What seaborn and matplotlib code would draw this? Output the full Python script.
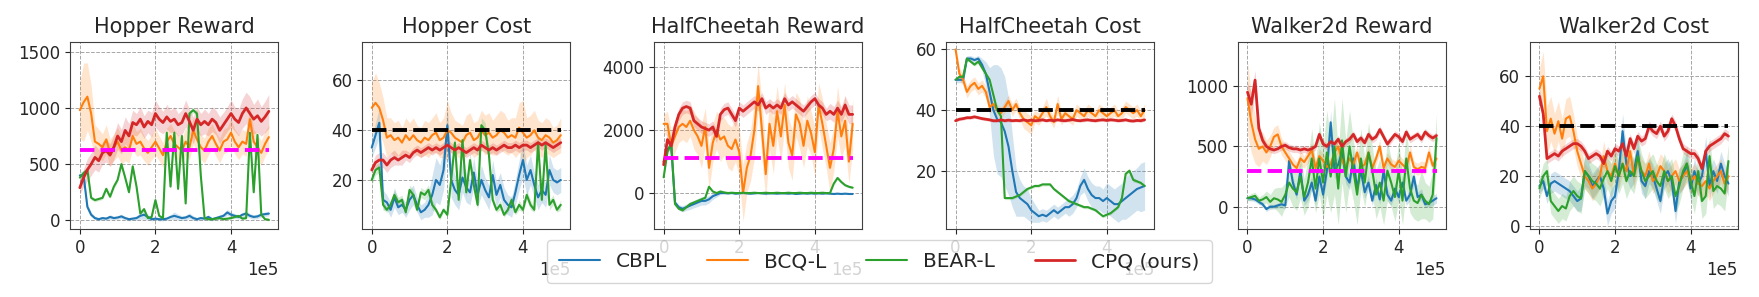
import numpy as np
import seaborn as sns
import matplotlib
matplotlib.use('Agg')
import matplotlib.pyplot as plt

# 训练步数 (0 ~ 5e5)
steps = np.linspace(0, 5e5, 51)

methods = ['CBPL', 'BCQ-L', 'BEAR-L', 'CPQ (ours)']
titles = ['Hopper Reward', 'Hopper Cost', 'HalfCheetah Reward',
          'HalfCheetah Cost', 'Walker2d Reward', 'Walker2d Cost']
thresholds = [630, 40, 1110, 40, 300, 40]

# ---------------- Hopper Reward ----------------
hop_r_cbpl = [400, 400, 120, 50, 20, 10, 20, 15, 30, 20,
              25, 35, 20, 10, 15, 20, 40, 50, 30, 10,
              15, 10, 10, 15, 30, 40, 30, 20, 25, 40,
              20, 10, 20, 15, 30, 10, 20, 30, 40, 70,
              50, 40, 30, 50, 60, 40, 30, 35, 50, 55,
              60]
hop_r_cbpl_sd = [30, 40, 30, 20, 15, 15, 15, 15, 20, 15,
                 15, 20, 15, 15, 15, 20, 30, 40, 25, 15,
                 15, 15, 15, 15, 20, 35, 25, 20, 20, 25,
                 20, 15, 15, 15, 20, 15, 15, 20, 20, 25,
                 25, 20, 20, 20, 25, 20, 20, 20, 20, 20,
                 20]
hop_r_bcq = [980, 1050, 1100, 950, 700, 680, 650, 720, 600, 650,
             700, 620, 650, 620, 750, 680, 700, 640, 600, 650,
             700, 640, 580, 700, 750, 680, 650, 620, 700, 650,
             800, 720, 650, 620, 700, 750, 680, 620, 700, 720,
             780, 700, 650, 700, 680, 900, 700, 650, 600, 680,
             740]
hop_r_bcq_sd = [250, 350, 300, 250, 150, 130, 120, 130, 120, 120,
                130, 120, 120, 110, 120, 110, 120, 110, 110, 110,
                120, 110, 110, 120, 110, 120, 110, 110, 120, 110,
                120, 110, 110, 110, 120, 110, 110, 110, 110, 110,
                120, 110, 110, 110, 110, 120, 110, 110, 110, 110,
                110]
hop_r_bear = [380, 420, 450, 200, 180, 190, 200, 280, 210, 300,
              360, 500, 380, 250, 480, 300, 60, 100, 20, 30,
              180, 40, 20, 780, 300, 780, 280, 750, 150, 950,
              980, 950, 400, 20, 10, 10, 15, 20, 10, 15,
              20, 30, 40, 15, 20, 780, 250, 760, 50, 10,
              5]
hop_r_bear_sd = [20, 25, 25, 20, 15, 15, 15, 20, 15, 20,
                 20, 25, 20, 15, 20, 15, 10, 10, 10, 10,
                 15, 10, 10, 25, 20, 25, 20, 25, 15, 25,
                 25, 25, 20, 10, 10, 10, 10, 10, 10, 10,
                 10, 10, 10, 10, 10, 25, 20, 25, 10, 10,
                 10]
hop_r_cpq = [290, 380, 450, 500, 560, 530, 600, 620, 580, 650,
             750, 700, 800, 750, 870, 850, 900, 830, 880, 850,
             950, 900, 870, 920, 880, 900, 850, 870, 950, 880,
             800, 900, 850, 880, 850, 900, 870, 800, 850, 900,
             950, 900, 870, 950, 1000, 950, 900, 930, 880, 920,
             970]
hop_r_cpq_sd = [60, 80, 100, 100, 110, 100, 100, 100, 100, 110,
                120, 110, 120, 110, 110, 100, 110, 100, 100, 110,
                120, 110, 100, 110, 100, 110, 100, 110, 120, 110,
                120, 110, 100, 110, 100, 110, 110, 120, 110, 110,
                120, 110, 120, 130, 140, 150, 130, 150, 130, 140,
                150]

# ---------------- Hopper Cost ----------------
hop_c_cbpl = [33, 38, 43, 12, 11, 8, 13, 9, 10, 8,
              12, 14, 10, 7, 8, 10, 14, 20, 18, 24,
              42, 20, 16, 14, 21, 17, 15, 23, 14, 20,
              16, 13, 22, 14, 18, 12, 10, 9, 15, 22,
              28, 20, 24, 18, 13, 16, 14, 24, 20, 19,
              20]
hop_c_cbpl_sd = [4, 5, 6, 4, 3, 3, 4, 3, 3, 3,
                 4, 4, 3, 3, 3, 5, 8, 9, 8, 8,
                 8, 7, 6, 6, 6, 6, 5, 6, 5, 6,
                 5, 5, 6, 5, 5, 5, 4, 4, 5, 6,
                 7, 6, 6, 5, 5, 5, 5, 6, 5, 5,
                 5]
hop_c_bcq = [49, 51, 49, 44, 37, 38, 36, 37, 35, 38,
             36, 38, 36, 35, 37, 36, 38, 39, 36, 37,
             40, 39, 37, 36, 35, 38, 39, 36, 37, 40,
             38, 39, 37, 38, 40, 39, 37, 38, 37, 41,
             39, 37, 38, 40, 37, 36, 38, 37, 35, 36,
             38]
hop_c_bcq_sd = [10, 12, 10, 9, 8, 7, 7, 7, 6, 7,
                7, 7, 6, 6, 7, 7, 7, 8, 7, 8,
                12, 8, 7, 7, 7, 8, 8, 7, 7, 8,
                8, 8, 7, 8, 8, 8, 7, 7, 8, 10,
                13, 8, 8, 8, 7, 7, 7, 7, 6, 6,
                7]
hop_c_bear = [20, 24, 25, 10, 8, 10, 14, 11, 12, 7,
              16, 14, 8, 15, 14, 16, 10, 8, 5, 8,
              6, 20, 35, 12, 36, 15, 28, 18, 10, 42,
              40, 30, 12, 8, 10, 6, 8, 12, 7, 10,
              8, 14, 10, 8, 35, 12, 34, 10, 12, 8,
              10]
hop_c_bear_sd = [2, 2, 2, 2, 1, 2, 2, 2, 2, 1,
                 2, 2, 1, 2, 2, 2, 2, 1, 1, 1,
                 1, 2, 3, 2, 3, 2, 3, 2, 2, 3,
                 3, 3, 2, 1, 2, 1, 1, 2, 1, 2,
                 1, 2, 2, 1, 3, 2, 3, 2, 2, 1,
                 2]
hop_c_cpq = [24, 27, 28, 28, 26, 28, 29, 28, 29, 30,
             29, 31, 32, 31, 32, 33, 32, 33, 32, 33,
             34, 33, 32, 33, 32, 31, 32, 33, 32, 34,
             33, 32, 33, 32, 33, 34, 33, 33, 34, 33,
             34, 34, 33, 34, 35, 34, 35, 34, 33, 34,
             35]
hop_c_cpq_sd = [2, 3, 3, 3, 3, 3, 3, 2, 3, 2,
                2, 2, 2, 2, 2, 2, 2, 2, 2, 2,
                2, 2, 2, 2, 2, 2, 2, 2, 2, 2,
                2, 2, 2, 2, 2, 2, 2, 2, 2, 2,
                2, 2, 2, 2, 2, 2, 2, 2, 2, 2,
                2]

# ---------------- HalfCheetah Reward ----------------
hc_r_cbpl = [1000, 1400, 1500, -300, -450, -500, -450, -400, -350, -300,
             -250, -250, -200, -100, -50, 0, 0, -10, 0, -20,
             -10, 0, -10, -20, -10, 0, -10, -20, -10, -10,
             -20, -10, -10, -20, -10, -30, -20, -10, -20, -10,
             -20, -10, -20, -10, -20, -30, -20, -30, -20, -30,
             -30]
hc_r_cbpl_sd = [50, 60, 60, 60, 80, 100, 100, 120, 120, 130,
                130, 130, 120, 100, 80, 50, 30, 30, 20, 20,
                20, 20, 20, 20, 20, 20, 20, 20, 20, 20,
                20, 20, 20, 20, 20, 20, 20, 20, 20, 20,
                20, 20, 20, 20, 20, 20, 20, 20, 20, 20,
                20]
hc_r_bcq = [2200, 2200, 1500, 1800, 2100, 2200, 2100, 2300, 2000, 1800,
            1500, 2100, 800, 1600, 2000, 1700, 1800, 1500, 1400, 1700,
            1300, 0, 800, 1200, 2000, 3400, 2000, 600, 2200, 1500,
            2600, 1800, 2800, 1600, 1200, 2500, 2200, 1500, 2300, 1900,
            1300, 2800, 2200, 1500, 800, 1400, 2600, 1800, 2300, 1000,
            2200]
hc_r_bcq_sd = [300, 400, 500, 500, 500, 500, 500, 500, 600, 600,
               700, 600, 700, 600, 600, 700, 600, 700, 700, 700,
               800, 900, 800, 800, 900, 700, 900, 800, 800, 900,
               800, 800, 700, 800, 800, 700, 800, 700, 800, 700,
               800, 700, 800, 700, 800, 700, 800, 700, 800, 700,
               800]
hc_r_bear = [500, 1300, 1600, -350, -500, -550, -450, -350, -300, -250,
             -200, -150, 200, 50, 0, 50, 20, 0, 10, 0,
             0, 10, 0, 0, 10, 0, 0, 10, 0, 0,
             10, 0, 0, 10, 0, 0, 10, 0, 0, 10,
             0, 0, 10, 0, 0, 300, 480, 350, 250, 200,
             170]
hc_r_bear_sd = [40, 60, 60, 40, 40, 40, 40, 40, 40, 40,
                40, 40, 40, 30, 20, 20, 20, 20, 20, 20,
                20, 20, 20, 20, 20, 20, 20, 20, 20, 20,
                20, 20, 20, 20, 20, 20, 20, 20, 20, 20,
                20, 20, 20, 20, 20, 40, 50, 50, 40, 40,
                40]
hc_r_cpq = [900, 1700, 1500, 2100, 2500, 2700, 2750, 2700, 2300, 2200,
            2100, 2050, 2000, 2100, 1800, 2500, 2650, 2700, 2500, 2300,
            2700, 2600, 2700, 2800, 2900, 2800, 3000, 2700, 2800, 2700,
            2800, 2700, 3000, 2800, 2900, 2800, 2700, 2600, 2750, 2900,
            3000, 2800, 2700, 2500, 2600, 2500, 2700, 2500, 2800, 2500,
            2500]
hc_r_cpq_sd = [200, 300, 250, 200, 200, 200, 200, 200, 200, 200,
               200, 200, 200, 200, 200, 200, 200, 200, 200, 200,
               200, 200, 200, 200, 200, 200, 200, 200, 200, 200,
               200, 200, 200, 200, 200, 200, 200, 200, 200, 200,
               200, 200, 200, 200, 250, 250, 250, 250, 300, 300,
               300]

# ---------------- HalfCheetah Cost ----------------
hc_c_cbpl = [50, 50, 50, 57, 57, 56.5, 57, 55, 52, 46,
             40, 37, 36, 33, 28, 20, 13, 11, 10, 9,
             7, 6, 5, 5.5, 5, 6, 7, 6, 7, 8,
             8, 9, 11, 15, 17, 14, 12, 11, 11, 10,
             11, 10, 9, 9, 10, 11, 12, 13, 14, 14.5,
             15]
hc_c_cbpl_sd = [1, 1, 1, 1, 1, 1, 1, 2, 4, 8,
                15, 18, 18, 18, 16, 12, 8, 6, 5, 5,
                4, 3, 2, 2, 2, 2, 2, 2, 2, 2,
                3, 3, 3, 3, 4, 4, 4, 4, 4, 4,
                5, 5, 5, 6, 6, 7, 7, 7, 7, 8,
                8]
hc_c_bcq = [60, 52, 50, 46, 48, 49, 47, 48, 46, 41,
            42, 40, 39, 41, 43, 40, 42, 39, 37, 36,
            35, 38, 37, 39, 41, 38, 36, 42, 37, 39,
            38, 37, 40, 39, 38, 40, 39, 38, 40, 39,
            38, 39, 40, 38, 39, 41, 40, 39, 40, 38,
            40]
hc_c_bcq_sd = [1, 2, 2, 2, 2, 2, 2, 2, 2, 2,
               2, 2, 2, 2, 2, 2, 2, 2, 3, 3,
               3, 2, 2, 2, 3, 2, 2, 3, 2, 2,
               2, 2, 2, 2, 2, 2, 2, 2, 2, 2,
               2, 2, 2, 2, 2, 2, 2, 2, 2, 2,
               2]
hc_c_bear = [50, 51, 51, 57, 56, 55, 56, 54, 52, 50,
             45, 40, 38, 11, 11, 11, 11.5, 12, 13, 14,
             14.5, 15, 15, 15.5, 15.5, 15.5, 14, 13, 12, 11,
             10, 9.5, 9, 8.5, 8, 8, 7.5, 7, 6, 5,
             5.5, 6, 7, 8, 11, 19, 20, 17, 16.5, 16,
             15]
hc_c_bear_sd = [0.5, 0.5, 0.5, 0.5, 0.5, 0.5, 0.5, 0.5, 0.5, 0.5,
                0.5, 0.5, 0.5, 0.5, 0.5, 0.5, 0.5, 0.5, 0.5, 0.5,
                0.5, 0.5, 0.5, 0.5, 0.5, 0.5, 0.5, 0.5, 0.5, 0.5,
                0.5, 0.5, 0.5, 0.5, 0.5, 0.5, 0.5, 0.5, 0.5, 0.5,
                0.5, 0.5, 0.5, 0.5, 0.5, 0.8, 0.8, 0.8, 0.5, 0.5,
                0.5]
hc_c_cpq = [36.5, 37, 37.2, 37.5, 37.5, 37.8, 37.5, 37.2, 37, 36.8,
            36.5, 36.5, 36.8, 36.5, 36.7, 36.5, 36.6, 36.5, 36.8, 36.5,
            36.7, 36.5, 36.6, 36.8, 36.5, 36.7, 36.5, 36.8, 36.6, 36.5,
            36.7, 36.9, 36.6, 36.5, 36.7, 36.8, 36.6, 36.5, 36.7, 36.8,
            36.6, 36.8, 36.7, 36.5, 36.6, 36.8, 36.5, 36.4, 36.6, 36.5,
            36.8]
hc_c_cpq_sd = [0.5, 0.5, 0.5, 0.5, 0.5, 0.5, 0.5, 0.5, 0.5, 0.5,
               0.5, 0.5, 0.5, 0.5, 0.5, 0.5, 0.5, 0.5, 0.5, 0.5,
               0.5, 0.5, 0.5, 0.5, 0.5, 0.5, 0.5, 0.5, 0.5, 0.5,
               0.5, 0.5, 0.5, 0.5, 0.5, 0.5, 0.5, 0.5, 0.5, 0.5,
               0.5, 0.5, 0.5, 0.5, 0.5, 0.5, 0.5, 0.5, 0.5, 0.5,
               0.5]

# ---------------- Walker2d Reward ----------------
wk_r_cbpl = [70, 70, 60, 40, 20, -20, 0, 0, 10, 20,
             10, 380, 200, 100, 300, 50, 100, 200, 50, 250,
             100, 300, 700, 300, 350, 450, 250, 200, 400, 150,
             300, 120, 200, 50, 180, 60, 300, 100, 50, 150,
             80, 200, 50, 100, 250, 80, 100, 20, 30, 50,
             70]
wk_r_cbpl_sd = [20, 20, 20, 20, 20, 20, 20, 20, 20, 30,
                30, 60, 50, 40, 60, 40, 50, 60, 40, 60,
                50, 70, 100, 70, 80, 80, 60, 60, 80, 50,
                70, 50, 60, 40, 60, 40, 70, 50, 40, 50,
                40, 60, 40, 50, 60, 40, 50, 30, 30, 40,
                40]
wk_r_bcq = [900, 700, 560, 480, 500, 450, 500, 580, 600, 500,
            450, 400, 350, 320, 400, 370, 420, 470, 320, 420,
            380, 330, 350, 450, 500, 380, 330, 400, 350, 450,
            330, 350, 450, 320, 400, 500, 320, 400, 350, 330,
            380, 350, 320, 450, 330, 310, 330, 320, 450, 340,
            400]
wk_r_bcq_sd = [300, 250, 200, 150, 120, 100, 90, 80, 80, 70,
               70, 60, 60, 50, 60, 50, 60, 60, 50, 60,
               60, 50, 50, 60, 60, 50, 50, 60, 50, 60,
               50, 50, 60, 50, 50, 60, 50, 50, 50, 50,
               50, 50, 50, 60, 50, 50, 50, 50, 60, 50,
               50]
wk_r_bear = [70, 80, 90, 50, 60, 80, 40, 70, 60, 40,
             100, 200, 150, 120, 250, 80, 200, 400, 150, 400,
             200, 450, 250, 500, 150, 550, 250, 500, 300, 100,
             400, 200, 450, 300, 100, 200, 50, 300, 200, 80,
             300, 50, 400, 150, 50, 30, 100, 50, 20, 100,
             570]
wk_r_bear_sd = [20, 30, 30, 30, 40, 50, 60, 80, 100, 120,
                100, 120, 150, 150, 180, 150, 200, 250, 200, 300,
                300, 350, 300, 400, 300, 350, 300, 300, 250, 250,
                250, 200, 250, 200, 200, 200, 200, 250, 200, 200,
                250, 200, 250, 200, 150, 150, 200, 150, 150, 200,
                200]
wk_r_cpq = [950, 850, 1050, 650, 550, 500, 480, 470, 480, 500,
            510, 490, 480, 480, 470, 480, 470, 480, 500, 600,
            520, 500, 540, 520, 560, 500, 540, 560, 600, 540,
            570, 530, 600, 560, 580, 640, 580, 520, 560, 600,
            580, 540, 620, 560, 580, 600, 560, 620, 590, 570,
            590]
wk_r_cpq_sd = [80, 100, 80, 50, 40, 30, 30, 30, 30, 30,
               30, 30, 30, 30, 30, 30, 30, 30, 30, 30,
               30, 30, 30, 30, 30, 30, 30, 30, 30, 30,
               30, 30, 30, 30, 30, 30, 30, 30, 30, 30,
               30, 30, 30, 30, 30, 30, 30, 30, 30, 30,
               30]

# ---------------- Walker2d Cost ----------------
wk_c_cbpl = [16, 18, 12, 17, 18, 17, 16, 15, 14, 12,
             10, 11, 22, 20, 16, 18, 20, 15, 5, 10,
             12, 22, 38, 25, 20, 22, 30, 18, 16, 22,
             20, 15, 10, 20, 22, 18, 6, 18, 20, 25,
             15, 22, 17, 20, 30, 16, 22, 18, 25, 20,
             17]
wk_c_cbpl_sd = [3, 3, 3, 4, 4, 4, 4, 4, 4, 4,
                4, 5, 6, 5, 5, 5, 5, 5, 5, 5,
                5, 6, 7, 6, 5, 5, 6, 5, 5, 5,
                5, 5, 5, 5, 5, 5, 5, 5, 5, 5,
                5, 5, 5, 5, 6, 5, 5, 5, 5, 5,
                5]
wk_c_bcq = [55, 60, 38, 43, 37, 42, 35, 43, 44, 38,
            30, 25, 20, 18, 15, 17, 20, 28, 22, 20,
            25, 20, 25, 22, 30, 20, 27, 22, 20, 25,
            18, 20, 24, 22, 18, 20, 22, 18, 20, 22,
            18, 20, 17, 16, 18, 15, 18, 20, 22, 17,
            20]
wk_c_bcq_sd = [8, 10, 10, 9, 8, 8, 8, 8, 8, 7,
               6, 6, 5, 5, 5, 5, 5, 6, 5, 5,
               5, 5, 5, 5, 6, 5, 5, 5, 5, 5,
               5, 5, 5, 5, 5, 5, 5, 5, 5, 5,
               5, 5, 5, 5, 5, 5, 5, 5, 5, 5,
               5]
wk_c_bear = [15, 20, 22, 10, 8, 6, 8, 7, 12, 14,
             12, 11, 22, 20, 18, 17, 15, 19, 22, 18,
             24, 20, 25, 18, 22, 20, 28, 22, 18, 20,
             22, 18, 16, 22, 18, 20, 12, 16, 22, 25,
             18, 12, 22, 10, 12, 28, 14, 16, 15, 13,
             26]
wk_c_bear_sd = [4, 5, 5, 5, 5, 5, 5, 5, 6, 6,
                6, 6, 7, 7, 7, 7, 7, 7, 7, 7,
                7, 7, 8, 7, 7, 7, 8, 7, 7, 7,
                7, 7, 7, 7, 7, 7, 7, 7, 7, 7,
                7, 7, 7, 7, 7, 8, 7, 7, 7, 7,
                7]
wk_c_cpq = [52, 45, 27, 28, 29, 28, 30, 31, 32, 33,
            33, 32, 30, 27, 28, 29, 28, 25, 30, 28,
            31, 30, 33, 28, 35, 31, 36, 34, 35, 40,
            38, 37, 40, 36, 38, 43, 40, 35, 31, 30,
            29, 29, 27, 23, 30, 32, 33, 34, 35, 37,
            36]
wk_c_cpq_sd = [3, 3, 2, 2, 2, 2, 2, 2, 2, 2,
               2, 2, 2, 2, 2, 2, 2, 2, 2, 2,
               2, 2, 2, 2, 2, 2, 2, 2, 2, 2,
               2, 2, 2, 2, 2, 2, 2, 2, 2, 2,
               2, 2, 2, 2, 2, 2, 2, 2, 2, 2,
               2]

panels = [
    ([hop_r_cbpl, hop_r_bcq, hop_r_bear, hop_r_cpq],
     [hop_r_cbpl_sd, hop_r_bcq_sd, hop_r_bear_sd, hop_r_cpq_sd]),
    ([hop_c_cbpl, hop_c_bcq, hop_c_bear, hop_c_cpq],
     [hop_c_cbpl_sd, hop_c_bcq_sd, hop_c_bear_sd, hop_c_cpq_sd]),
    ([hc_r_cbpl, hc_r_bcq, hc_r_bear, hc_r_cpq],
     [hc_r_cbpl_sd, hc_r_bcq_sd, hc_r_bear_sd, hc_r_cpq_sd]),
    ([hc_c_cbpl, hc_c_bcq, hc_c_bear, hc_c_cpq],
     [hc_c_cbpl_sd, hc_c_bcq_sd, hc_c_bear_sd, hc_c_cpq_sd]),
    ([wk_r_cbpl, wk_r_bcq, wk_r_bear, wk_r_cpq],
     [wk_r_cbpl_sd, wk_r_bcq_sd, wk_r_bear_sd, wk_r_cpq_sd]),
    ([wk_c_cbpl, wk_c_bcq, wk_c_bear, wk_c_cpq],
     [wk_c_cbpl_sd, wk_c_bcq_sd, wk_c_bear_sd, wk_c_cpq_sd]),
]


def plot_curves(ax, title, means, sds, threshold, thr_color, ylim, palette):
    """画一个子图：均值曲线 + 阴影 + 阈值虚线"""
    for name, mean, sd, color in zip(methods, means, sds, palette):
        mean = np.asarray(mean, dtype=float)
        sd = np.asarray(sd, dtype=float)
        lw = 2.0 if name.startswith('CPQ') else 1.5
        sns.lineplot(x=steps, y=mean, ax=ax, color=color, lw=lw,
                     label=name, legend=False)
        ax.fill_between(steps, mean - sd, mean + sd, color=color,
                        alpha=0.2, lw=0)
    ax.hlines(threshold, steps[0], steps[-1], colors=thr_color,
              linestyles='--', lw=2.8, zorder=5)

    ax.set_title(title, fontsize=15)
    ax.set_ylim(*ylim)
    ax.set_xticks([0, 2e5, 4e5])
    ax.ticklabel_format(axis='x', style='sci', scilimits=(0, 0))
    ax.xaxis.get_offset_text().set_fontsize(12)
    ax.tick_params(labelsize=12)
    ax.grid(True, ls='--', lw=0.7, color='0.65')
    ax.set_xlabel('')
    ax.set_ylabel('')


sns.set_style('ticks')
palette = sns.color_palette('tab10', 4)
ylims = [(-77, 1590), (0.3, 75.6), (-1143, 4815),
         (0.8, 62.6), (-185, 1370), (-1.2, 73.9)]
thr_colors = ['#ff00ff', 'black', '#ff00ff', 'black', '#ff00ff', 'black']

fig, axes = plt.subplots(1, 6, figsize=(17.59, 2.97), dpi=100)
for i, ax in enumerate(axes):
    means, sds = panels[i]
    plot_curves(ax, titles[i], means, sds, thresholds[i],
                thr_colors[i], ylims[i], palette)
    for spine in ax.spines.values():
        spine.set_color('0.25')

plt.subplots_adjust(left=0.040, right=0.988, bottom=0.229, top=0.860,
                    wspace=0.404)

# 图例放在底部中间
handles, labels = axes[0].get_legend_handles_labels()
fig.legend(handles, labels, loc='lower center', ncol=4, fontsize=14.5,
           borderpad=0.6, bbox_to_anchor=(0.5, 0.012))

plt.savefig('out.png', dpi=100)
